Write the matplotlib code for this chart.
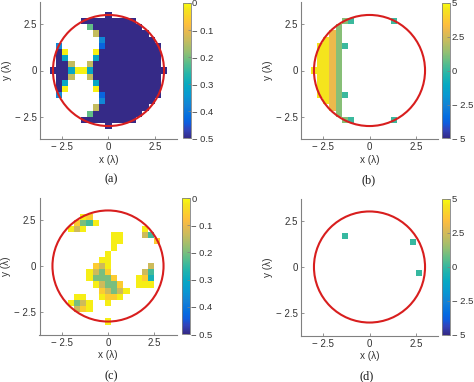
import numpy as np
import matplotlib
matplotlib.use("Agg")
import matplotlib.pyplot as plt
from matplotlib.colors import LinearSegmentedColormap

# ---------------- data (cells on a lambda/3 grid, k,m = -9..9) ----------------
# rows listed from top (y = +3) to bottom (y = -3); '.' = no value (white)
grid_step = 1.0 / 3.0
circle_radius = 3.0

codes_a = {'D': -0.5, 'M': -0.43, 'B': -0.37, 'C': -0.31, 'T': -0.215, 'L': -0.14, 'Y': -0.01}
rows_a_upper = [
    ".........D.........",
    ".....DDDDDDDDD.....",
    "......TDDDDDDDD....",
    ".......LDDDDDDDD...",
    "........BDDDDDDDD..",
    ".B......MDDDDDDDDD.",
    ".DY....YDDDDDDDDDD.",
    ".DC....CDDDDDDDDDD.",
    ".DDL..LDDDDDDDDDDD.",
    "DDDCYYCDDDDDDDDDDDD",
]
rows_a = rows_a_upper + rows_a_upper[-2::-1]

codes_b = {'Y': 4.5, 'O': 3.0, 'G': 1.2, 'T': 0.1}
rows_b_upper = [
    "...................",
    ".....GT......T.....",
    "....G..............",
    "...OG..............",
    "..YOG..............",
    ".YYOGT.............",
    ".YYOG..............",
    ".YYOG..............",
    ".YYOG..............",
    "YYYOG..............",
]
rows_b = rows_b_upper + rows_b_upper[-2::-1]

codes_c = {'Y': -0.015, 'O': -0.06, 'L': -0.13, 'G': -0.2, 'T': -0.24, 'C': -0.28}
rows_c = [
    "...................",
    ".....YO............",
    "....OGTY...........",
    "...YLY.........Y...",
    "..........YY...LT..",
    "..........YY.....O.",
    "..........Y........",
    ".........Y.........",
    "........YY.........",
    ".......OLY......L..",
    "......YLGO.....LT..",
    "......YGGGO...YOC..",
    ".......YLGGO..YYY..",
    "........OLGLY......",
    "....YY..YOOY.......",
    "...YGLY..Y.........",
    "....LOY............",
    "...................",
    ".........Y.........",
]

codes_d = {'T': 0.0}
rows_d = [
    "...................",
    "...................",
    "...................",
    "...................",
    ".....T.............",
    "................T..",
    "...................",
    "...................",
    "...................",
    "...................",
    ".................T.",
    "...................",
    "...................",
    "...................",
    "...................",
    "...................",
    "...................",
    "...................",
    "...................",
]

panel_labels = ["(a)", "(b)", "(c)", "(d)"]
ranges = [(-0.5, 0.0), (-5.0, 5.0), (-0.5, 0.0), (-5.0, 5.0)]
cbar_ticks = [[-0.5, -0.4, -0.3, -0.2, -0.1, 0.0],
              [-5, -2.5, 0, 2.5, 5],
              [-0.5, -0.4, -0.3, -0.2, -0.1, 0.0],
              [-5, -2.5, 0, 2.5, 5]]
axis_ticks = [-2.5, 0, 2.5]

# ---------------- colormap (MATLAB parula approximation) ----------------
parula_pts = [
    (0, (0.2081, 0.1663, 0.5292)), (4, (0.1959, 0.2645, 0.7279)),
    (7, (0.0591, 0.3598, 0.8683)), (10, (0.0165, 0.4266, 0.8786)),
    (15, (0.0779, 0.5040, 0.8384)), (20, (0.0343, 0.5966, 0.8199)),
    (25, (0.0267, 0.6642, 0.7607)), (30, (0.1453, 0.7098, 0.6646)),
    (35, (0.3482, 0.7424, 0.5473)), (40, (0.5709, 0.7485, 0.4494)),
    (45, (0.7525, 0.7384, 0.3768)), (50, (0.9139, 0.7258, 0.3063)),
    (53, (0.9938, 0.7455, 0.2403)), (56, (0.9880, 0.8066, 0.1794)),
    (60, (0.9589, 0.8949, 0.1132)), (63, (0.9763, 0.9831, 0.0538)),
]
cmap = LinearSegmentedColormap.from_list("parula", [(i / 63.0, c) for i, c in parula_pts])
cmap.set_bad((1, 1, 1, 0))


def build(rows, codes):
    n = len(rows)
    arr = np.full((n, n), np.nan)
    for r, s in enumerate(rows):
        assert len(s) == n, (r, s)
        for i, ch in enumerate(s):
            if ch != '.':
                arr[n - 1 - r, i] = codes[ch]
    return arr


grids = [build(rows_a, codes_a), build(rows_b, codes_b),
         build(rows_c, codes_c), build(rows_d, codes_d)]

W, H = 474, 382
fig = plt.figure(figsize=(W / 100, H / 100), dpi=100)


def px(left, top, w, h):
    return [left / W, 1 - (top + h) / H, w / W, h / H]


ax_pos = [(40, 2, 137, 137), (301, 2, 137, 137), (39.5, 197.5, 137, 137), (301, 198.5, 137, 137)]
cb_pos = [(182.5, 3, 8, 135.5), (442, 3, 8.3, 135.5), (182, 198, 8, 136), (442, 199, 8.3, 136)]
cap_pos = [(111, 179), (369, 180), (111, 376), (367, 376)]

gray = (0.5, 0.5, 0.5)
txt = (0.2, 0.2, 0.2)
sans = "Liberation Sans"
lim = 3.7
n = grids[0].shape[0]
edges = (np.arange(n + 1) - (n // 2) - 0.5) * grid_step


def fmt(v):
    if abs(v) < 1e-9:
        return "0"
    s = ("%g" % abs(v))
    return ("\u2212 " + s) if v < 0 else s


for idx in range(4):
    ax = fig.add_axes(px(*ax_pos[idx]))
    vmin, vmax = ranges[idx]
    mesh = ax.pcolormesh(edges, edges, np.ma.masked_invalid(grids[idx]), cmap=cmap,
                         vmin=vmin, vmax=vmax, shading="flat", antialiased=False)
    ax.add_patch(plt.Circle((0, 0), circle_radius, fill=False, ec="#d81e1e", lw=1.5, zorder=3))
    ax.set_xlim(-lim, lim)
    ax.set_ylim(-lim, lim)
    for s in ("top", "right"):
        ax.spines[s].set_visible(False)
    for s in ("left", "bottom"):
        ax.spines[s].set_color(gray)
        ax.spines[s].set_linewidth(0.8)
    ax.set_xticks(axis_ticks)
    ax.set_yticks(axis_ticks)
    ax.set_xticklabels([fmt(v) for v in axis_ticks])
    ax.set_yticklabels([fmt(v) for v in axis_ticks])
    ax.tick_params(direction="in", length=2.5, width=0.6, color=gray,
                   labelsize=7, labelcolor=txt, pad=2.5)
    for lab in ax.get_xticklabels() + ax.get_yticklabels():
        lab.set_family(sans)
    ax.set_xlabel("x (\u03bb)", fontsize=7.2, family=sans, color=txt, labelpad=1.5)
    ax.set_ylabel("y (\u03bb)", fontsize=7.2, family=sans, color=txt, labelpad=2)

    cax = fig.add_axes(px(*cb_pos[idx]))
    cb = fig.colorbar(mesh, cax=cax)
    cb.set_ticks(cbar_ticks[idx])
    cb.set_ticklabels([fmt(v) for v in cbar_ticks[idx]])
    cb.outline.set_edgecolor(gray)
    cb.outline.set_linewidth(0.6)
    cax.tick_params(direction="in", length=2, width=0.5, color=gray,
                    labelsize=6.8, labelcolor=txt, pad=1)
    for lab in cax.get_yticklabels():
        lab.set_family(sans)

    fig.text(cap_pos[idx][0] / W, 1 - cap_pos[idx][1] / H, panel_labels[idx],
             ha="center", va="center", family="Liberation Serif", fontsize=8.8, color=(0.1, 0.1, 0.1))

fig.savefig("out.png", dpi=100)
